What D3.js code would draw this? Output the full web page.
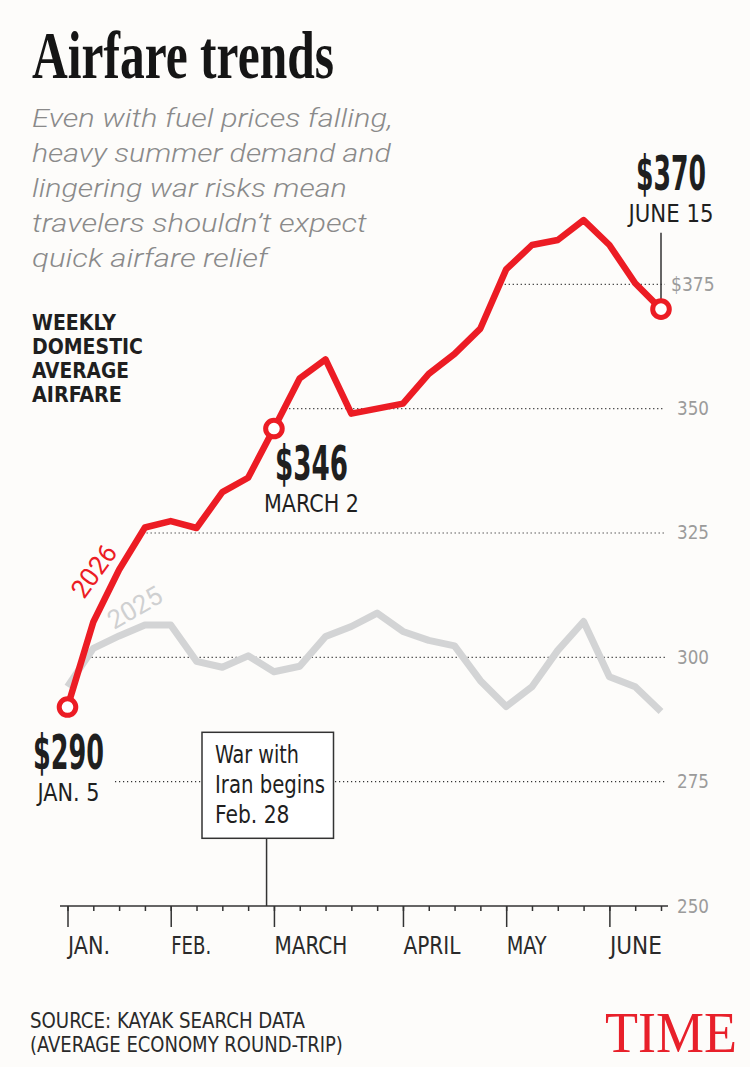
<!DOCTYPE html>
<html>
<head>
<meta charset="utf-8">
<script src="https://cdn.jsdelivr.net/npm/d3@7"></script>
<style>
  body { margin: 0; background: #fdfcfa; }
  svg { display: block; }
  .cond { font-family: "Liberation Sans Narrow", "DejaVu Sans Condensed", Roboto, sans-serif; }
</style>
</head>
<body>
<svg width="750" height="1067"></svg>
<script>
// weekly data, Mondays of 2026 (2025 plotted on the matching week)
const weekLabels = ["2026-01-05","2026-01-12","2026-01-19","2026-01-26","2026-02-02","2026-02-09",
  "2026-02-16","2026-02-23","2026-03-02","2026-03-09","2026-03-16","2026-03-23","2026-03-30",
  "2026-04-06","2026-04-13","2026-04-20","2026-04-27","2026-05-04","2026-05-11","2026-05-18",
  "2026-05-25","2026-06-01","2026-06-08","2026-06-15"];
const fares2026 = [290, 307.1, 317.6, 326.1, 327.4, 326.0, 333.2, 336.1, 346, 356.1, 359.9, 349.0,
  350.0, 351.0, 357.0, 361.0, 366.1, 378.0, 382.9, 383.9, 387.9, 382.9, 375.2, 370];
const fares2025 = [294.1, 301.8, 304.3, 306.5, 306.5, 299.2, 298.0, 300.3, 297.1, 298.2, 304.2, 306.2,
  308.9, 305.2, 303.4, 302.3, 295.3, 290.1, 294.1, 301.4, 307.2, 296.1, 294.1, 289.1];
const yTicks = [250, 275, 300, 325, 350, 375];
const monthTicks = ["2026-01-05","2026-02-02","2026-03-02","2026-04-06","2026-05-04","2026-06-01"];
const monthNames = ["JAN.", "FEB.", "MARCH", "APRIL", "MAY", "JUNE"];
const calloutWeeks = ["2026-01-05", "2026-03-02", "2026-06-15"];
const calloutValues = ["$290", "$346", "$370"];
const calloutDates = ["JAN. 5", "MARCH 2", "JUNE 15"];
const warDate = "2026-02-28";
const warText = ["War with", "Iran begins", "Feb. 28"];
const subtitle = ["Even with fuel prices falling,", "heavy summer demand and",
  "lingering war risks mean", "travelers shouldn\u2019t expect", "quick airfare relief"];
const legendLines = ["WEEKLY", "DOMESTIC", "AVERAGE", "AIRFARE"];

const RED = "#ec1c24", GREY = "#d3d4d5", INK = "#1f1f1f";
const parse = d3.timeParse("%Y-%m-%d");
const dates = weekLabels.map(parse);
const s26 = dates.map((d, i) => ({date: d, v: fares2026[i]}));
const s25 = dates.map((d, i) => ({date: d, v: fares2025[i]}));

const svg = d3.select("svg");
svg.append("rect").attr("width", 750).attr("height", 1067).attr("fill", "#fdfcfa");

let x = d3.scaleTime().domain([dates[0], dates[dates.length - 1]]).range([67.5, 661]);
let y = d3.scaleLinear().domain([250, 375]).range([906, 284.3]);

// squeeze a text horizontally to a given width (no condensed faces installed)
function fit(sel, w) {
  let node = sel.node();
  let n = node.getComputedTextLength();
  let tx = +sel.attr("x") || 0, ty = +sel.attr("y") || 0;
  sel.attr("x", 0).attr("y", 0)
    .attr("transform", "translate(" + tx + "," + ty + ") scale(" + (w / n) + ",1)");
  return sel;
}

// title + subtitle
fit(svg.append("text").attr("x", 32).attr("y", 78)
  .attr("font-family", "'Liberation Serif', serif").attr("font-weight", 700)
  .attr("font-size", 68).attr("fill", "#151515").text("Airfare trends"), 302);

const subW = [361, 359, 315, 335, 236];
subtitle.forEach(function(t, i) {
  fit(svg.append("text").attr("x", 32).attr("y", 127 + i * 35)
    .attr("font-family", "Roboto, sans-serif").attr("font-style", "italic").attr("font-weight", 300)
    .attr("font-size", 26).attr("fill", "#8a8a8a").text(t), subW[i]);
});

const legW = [84, 111, 97, 90];
legendLines.forEach(function(t, i) {
  fit(svg.append("text").attr("class", "cond").attr("x", 32).attr("y", 330 + i * 24)
    .attr("font-weight", 700).attr("font-size", 22).attr("fill", INK).text(t), legW[i]);
});

// dotted gridlines start just right of where the 2026 line first crosses them
function crossing(level) {
  for (let i = 1; i < s26.length; i++) {
    let a = s26[i - 1], b = s26[i];
    if (a.v < level && b.v >= level) {
      let t = (level - a.v) / (b.v - a.v);
      return x(a.date) + t * (x(b.date) - x(a.date));
    }
  }
  return null;
}
let grid = svg.append("g");
yTicks.filter(d => d > 250).forEach(function(d) {
  let c = crossing(d);
  let x0 = c === null ? 115 : c + 5;
  grid.append("line").attr("x1", x0).attr("x2", 665).attr("y1", y(d)).attr("y2", y(d))
    .attr("stroke", "#333").attr("stroke-width", 1.2).attr("stroke-dasharray", "1.2,2.8");
});

// y labels
let yLab = svg.append("g");
yTicks.forEach(function(d) {
  let top = d === 375;
  fit(yLab.append("text").attr("class", "cond").attr("x", top ? 671 : 677).attr("y", y(d) + 6.5)
    .attr("font-size", 19).attr("fill", "#9b9b9b").text(top ? "$" + d : d), top ? 43.6 : 32);
});

// x axis
let axisG = svg.append("g").attr("transform", "translate(0," + y(250) + ")");
axisG.append("line").attr("x1", 60).attr("x2", 668).attr("stroke", "#333").attr("stroke-width", 1.5);
axisG.append("g")
  .call(d3.axisBottom(x).tickValues(dates).tickSize(5).tickFormat(""))
  .call(g => g.select(".domain").remove())
  .call(g => g.selectAll("line").attr("stroke", "#333").attr("stroke-width", 1.5));
const monthW = [42, 40, 73, 57, 40, 52];
axisG.append("g")
  .call(d3.axisBottom(x).tickValues(monthTicks.map(parse)).tickSize(21)
    .tickFormat((d, i) => monthNames[i]))
  .call(g => g.select(".domain").remove())
  .call(g => g.selectAll("line").attr("stroke", "#333").attr("stroke-width", 1.5))
  .call(g => g.selectAll("text").attr("class", "cond").attr("text-anchor", "start")
    .attr("x", 0).attr("y", 48).attr("dy", 0).attr("font-size", 25).attr("fill", "#2a2a2a")
    .each(function(d, i) { fit(d3.select(this), monthW[i]); }));

// war marker
let wx = x(parse(warDate));
svg.append("line").attr("x1", wx).attr("x2", wx).attr("y1", 838).attr("y2", y(250))
  .attr("stroke", "#333").attr("stroke-width", 1.5);
svg.append("rect").attr("x", 202).attr("y", 732.3).attr("width", 131.5).attr("height", 106)
  .attr("fill", "#fff").attr("stroke", "#333").attr("stroke-width", 1.5);
const warW = [84, 110, 74.5];
warText.forEach(function(t, i) {
  fit(svg.append("text").attr("class", "cond").attr("x", 215).attr("y", 763.3 + i * 30)
    .attr("font-size", 25).attr("fill", INK).text(t), warW[i]);
});

// lines
let line = d3.line().x(d => x(d.date)).y(d => y(d.v));
svg.append("path").datum(s25).attr("d", line).attr("fill", "none")
  .attr("stroke", GREY).attr("stroke-width", 7).attr("stroke-linejoin", "round");
svg.append("path").datum(s26).attr("d", line).attr("fill", "none")
  .attr("stroke", RED).attr("stroke-width", 6.5).attr("stroke-linejoin", "round");

// series labels
svg.append("text").attr("transform", "translate(84,600) rotate(-54)")
  .attr("font-family", "Roboto, sans-serif").attr("font-size", 26).attr("fill", RED).text("2026");
svg.append("text").attr("transform", "translate(114,630) rotate(-30)")
  .attr("font-family", "Roboto, sans-serif").attr("font-size", 26).attr("fill", "#cfd0d1").text("2025");

// callouts
const callX = [68.5, 311.5, 671];
const callY = [769, 480, 190];
const valW = [71, 73, 70], dateW = [62, 95, 85];
calloutWeeks.forEach(function(w, i) {
  let d = s26[weekLabels.indexOf(w)];
  if (i === 2) {
    svg.append("line").attr("x1", x(d.date)).attr("x2", x(d.date)).attr("y1", 232.7).attr("y2", y(d.v) - 9)
      .attr("stroke", "#333").attr("stroke-width", 1.5);
  }
  svg.append("circle").attr("cx", x(d.date)).attr("cy", y(d.v)).attr("r", 8.3)
    .attr("fill", "#fff").attr("stroke", RED).attr("stroke-width", 5);
  fit(svg.append("text").attr("class", "cond").attr("x", callX[i]).attr("y", callY[i])
    .attr("text-anchor", "middle").attr("font-weight", 700).attr("font-size", 48)
    .attr("fill", INK).text(calloutValues[i]), valW[i]);
  fit(svg.append("text").attr("class", "cond").attr("x", callX[i]).attr("y", callY[i] + 32)
    .attr("text-anchor", "middle").attr("font-size", 24)
    .attr("fill", INK).text(calloutDates[i]), dateW[i]);
});

// footer
fit(svg.append("text").attr("class", "cond").attr("x", 30).attr("y", 1028).attr("font-size", 21)
  .attr("fill", "#2a2a2a").text("SOURCE: KAYAK SEARCH DATA"), 275);
fit(svg.append("text").attr("class", "cond").attr("x", 30).attr("y", 1052).attr("font-size", 21)
  .attr("fill", "#2a2a2a").text("(AVERAGE ECONOMY ROUND-TRIP)"), 313);
fit(svg.append("text").attr("x", 605).attr("y", 1052)
  .attr("font-family", "'Liberation Serif', serif").attr("font-size", 56)
  .attr("fill", "#e8202a").text("TIME"), 132);
</script>
</body>
</html>
